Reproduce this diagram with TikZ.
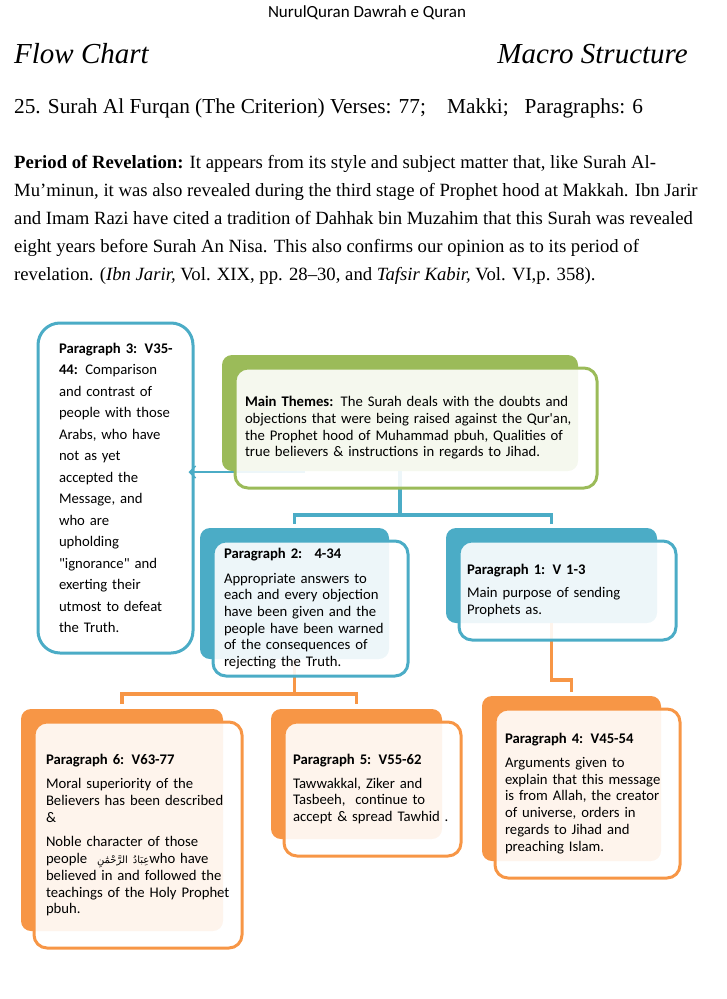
\documentclass[tikz,border=0pt]{standalone}
\usepackage{fontspec}
\setmainfont{Liberation Serif}
\newfontfamily\boxfont{Carlito}
\newfontfamily\arabicfont[Script=Arabic]{DejaVu Sans}
\TeXXeTstate=1
\usetikzlibrary{positioning,calc,arrows.meta}
\definecolor{greenC}{HTML}{9BBB59}
\definecolor{blueC}{HTML}{4BACC6}
\definecolor{orangeC}{HTML}{F79646}
\tikzset{
  backbox/.style={fill=#1, rounded corners=10pt, inner sep=0pt},
  frontbox/.style={draw=#1, line width=3pt, rounded corners=13pt, fill=white,
    fill opacity=0.9, text opacity=1, align=left, inner sep=0pt,
    font={\boxfont\fontsize{14.7}{16.7}\selectfont}},
  link/.style={draw=#1, line width=3.5pt},
}
\begin{document}
\begin{tikzpicture}[x=1pt,y=-1pt]
\useasboundingbox (0,0) rectangle (727,999);
% page head
\node[anchor=base, inner sep=0pt, font={\boxfont\fontsize{17}{20}\selectfont}] (head) at (367,17) {NurulQuran Dawrah e Quran};
\node[anchor=base west, inner sep=0pt, font={\fontsize{29}{35}\selectfont\itshape}] (flow) at (14,63) {Flow Chart};
\node[anchor=base east, inner sep=0pt, font={\fontsize{29}{35}\selectfont\itshape}] (macro) at (688,63) {Macro Structure};
\node[anchor=base west, inner sep=0pt, font={\fontsize{21.3}{25}\selectfont}] (title) at (14,113)
  {25. Surah Al Furqan (The Criterion) Verses: 77;\hspace{1em}Makki;\hspace{0.75em}Paragraphs: 6};
\node[anchor=north west, inner sep=0pt, align=left, font={\fontsize{18.7}{28}\selectfont}] (revel) at (14,155)
  {\textbf{Period of Revelation:} It appears from its style and subject matter that, like Surah Al-\\
   Mu'minun, it was also revealed during the third stage of Prophet hood at Makkah. Ibn Jarir\\
   and Imam Razi have cited a tradition of Dahhak bin Muzahim that this Surah was revealed\\
   eight years before Surah An Nisa. This also confirms our opinion as to its period of\\
   revelation. (\textit{Ibn Jarir,} Vol. XIX, pp. 28--30, and \textit{Tafsir Kabir,} Vol. VI,p. 358).};

% paragraph 3, single box
\node[draw=blueC, line width=3pt, rounded corners=22pt, fill=white, inner sep=0pt,
  minimum width=155pt, minimum height=330pt, text width=113pt, align=left,
  font={\boxfont\fontsize{14.7}{21.5}\selectfont}] (p3) at (115.5,488)
  {\mbox{\textbf{Paragraph 3: V35-}}\\ \textbf{44:} Comparison\\and contrast of\\people with those\\Arabs, who have\\not as yet\\accepted the\\Message, and\\who are\\upholding\\"ignorance" and\\exerting their\\utmost to defeat\\the Truth.};

% back shapes
\node[backbox=greenC, minimum width=356pt, minimum height=116pt] (mainb) at (400,413) {};
\node[backbox=blueC, minimum width=189pt, minimum height=131pt] (p2b) at (294.5,593.5) {};
\node[backbox=blueC, minimum width=211pt, minimum height=95pt] (p1b) at (551.5,575.5) {};
\node[backbox=orangeC, minimum width=202pt, minimum height=222pt] (p6b) at (122,820) {};
\node[backbox=orangeC, minimum width=171pt, minimum height=130pt] (p5b) at (356.5,774) {};
\node[backbox=orangeC, minimum width=179pt, minimum height=165pt] (p4b) at (571.5,778.5) {};

% connectors
\coordinate (arrowtail) at (305,472);
\draw[blueC, line width=1.5pt, -{Straight Barb[length=6pt,width=12pt]}, shorten >=-6pt] (arrowtail) -- (arrowtail -| p3.east);
\coordinate (bluefork) at ($(mainb.south)+(0,44)$);
\draw[link=blueC, shorten >=4pt] (mainb.south) -- (bluefork) -| (p2b.north);
\draw[link=blueC, shorten >=4pt] (bluefork) -| (p1b.north);
\coordinate (orangefork) at ($(p2b.south)+(0,35)$);
\draw[link=orangeC, shorten >=5pt] (p2b.south) -- (orangefork) -| (p6b.north);
\draw[link=orangeC, shorten >=5pt] (orangefork) -| (p5b.north);
\draw[link=orangeC, shorten >=4pt] (p1b.south) -- ++(0,57) -| (p4b.north);

% front shapes
\node[frontbox=greenC, minimum width=362pt, minimum height=120pt, text width=342pt] (main) at ($(mainb.center)+(16,15)$)
  {\textbf{Main Themes:} The Surah deals with the doubts and\\objections that were being raised against the Qur'an,\\the Prophet hood of Muhammad pbuh, Qualities of\\true believers \& instructions in regards to Jihad.};
\node[frontbox=blueC, minimum width=195pt, minimum height=135pt, text width=173pt] (p2) at ($(p2b.center)+(16,15)$)
  {\textbf{Paragraph 2:~ 4-34}\\[8pt]Appropriate answers to\\each and every objection\\have been given and the\\people have been warned\\of the consequences of\\rejecting the Truth.};
\node[frontbox=blueC, minimum width=217pt, minimum height=99pt, text width=201pt] (p1) at ($(p1b.center)+(16,15)$)
  {\textbf{Paragraph 1: V 1-3}\\[6pt]Main purpose of sending\\Prophets as.};
\node[frontbox=orangeC, minimum width=208pt, minimum height=226pt, text width=184pt] (p6) at ($(p6b.center)+(16,15)$)
  {\textbf{Paragraph 6: V63-77}\\[8pt]Moral superiority of the\\Believers has been described\\\&\\[8pt]Noble character of those\\people~~{\arabicfont\fontsize{10}{12}\selectfont\beginR عِبَادُ الرَّحْمَٰنِ\endR}who have\\believed in and followed the\\teachings of the Holy Prophet\\pbuh.};
\node[frontbox=orangeC, minimum width=177pt, minimum height=134pt, text width=159pt] (p5) at ($(p5b.center)+(16,15)$)
  {\textbf{Paragraph 5: V55-62}\\[7pt]Tawwakkal, Ziker and\\Tasbeeh,~ continue to\\accept \& spread Tawhid~.};
\node[frontbox=orangeC, minimum width=185pt, minimum height=169pt, text width=165pt] (p4) at ($(p4b.center)+(16,15)$)
  {\textbf{Paragraph 4: V45-54}\\[7pt]Arguments given to\\explain that this message\\is from Allah, the creator\\of universe, orders in\\regards to Jihad and\\preaching Islam.};
\end{tikzpicture}
\end{document}
